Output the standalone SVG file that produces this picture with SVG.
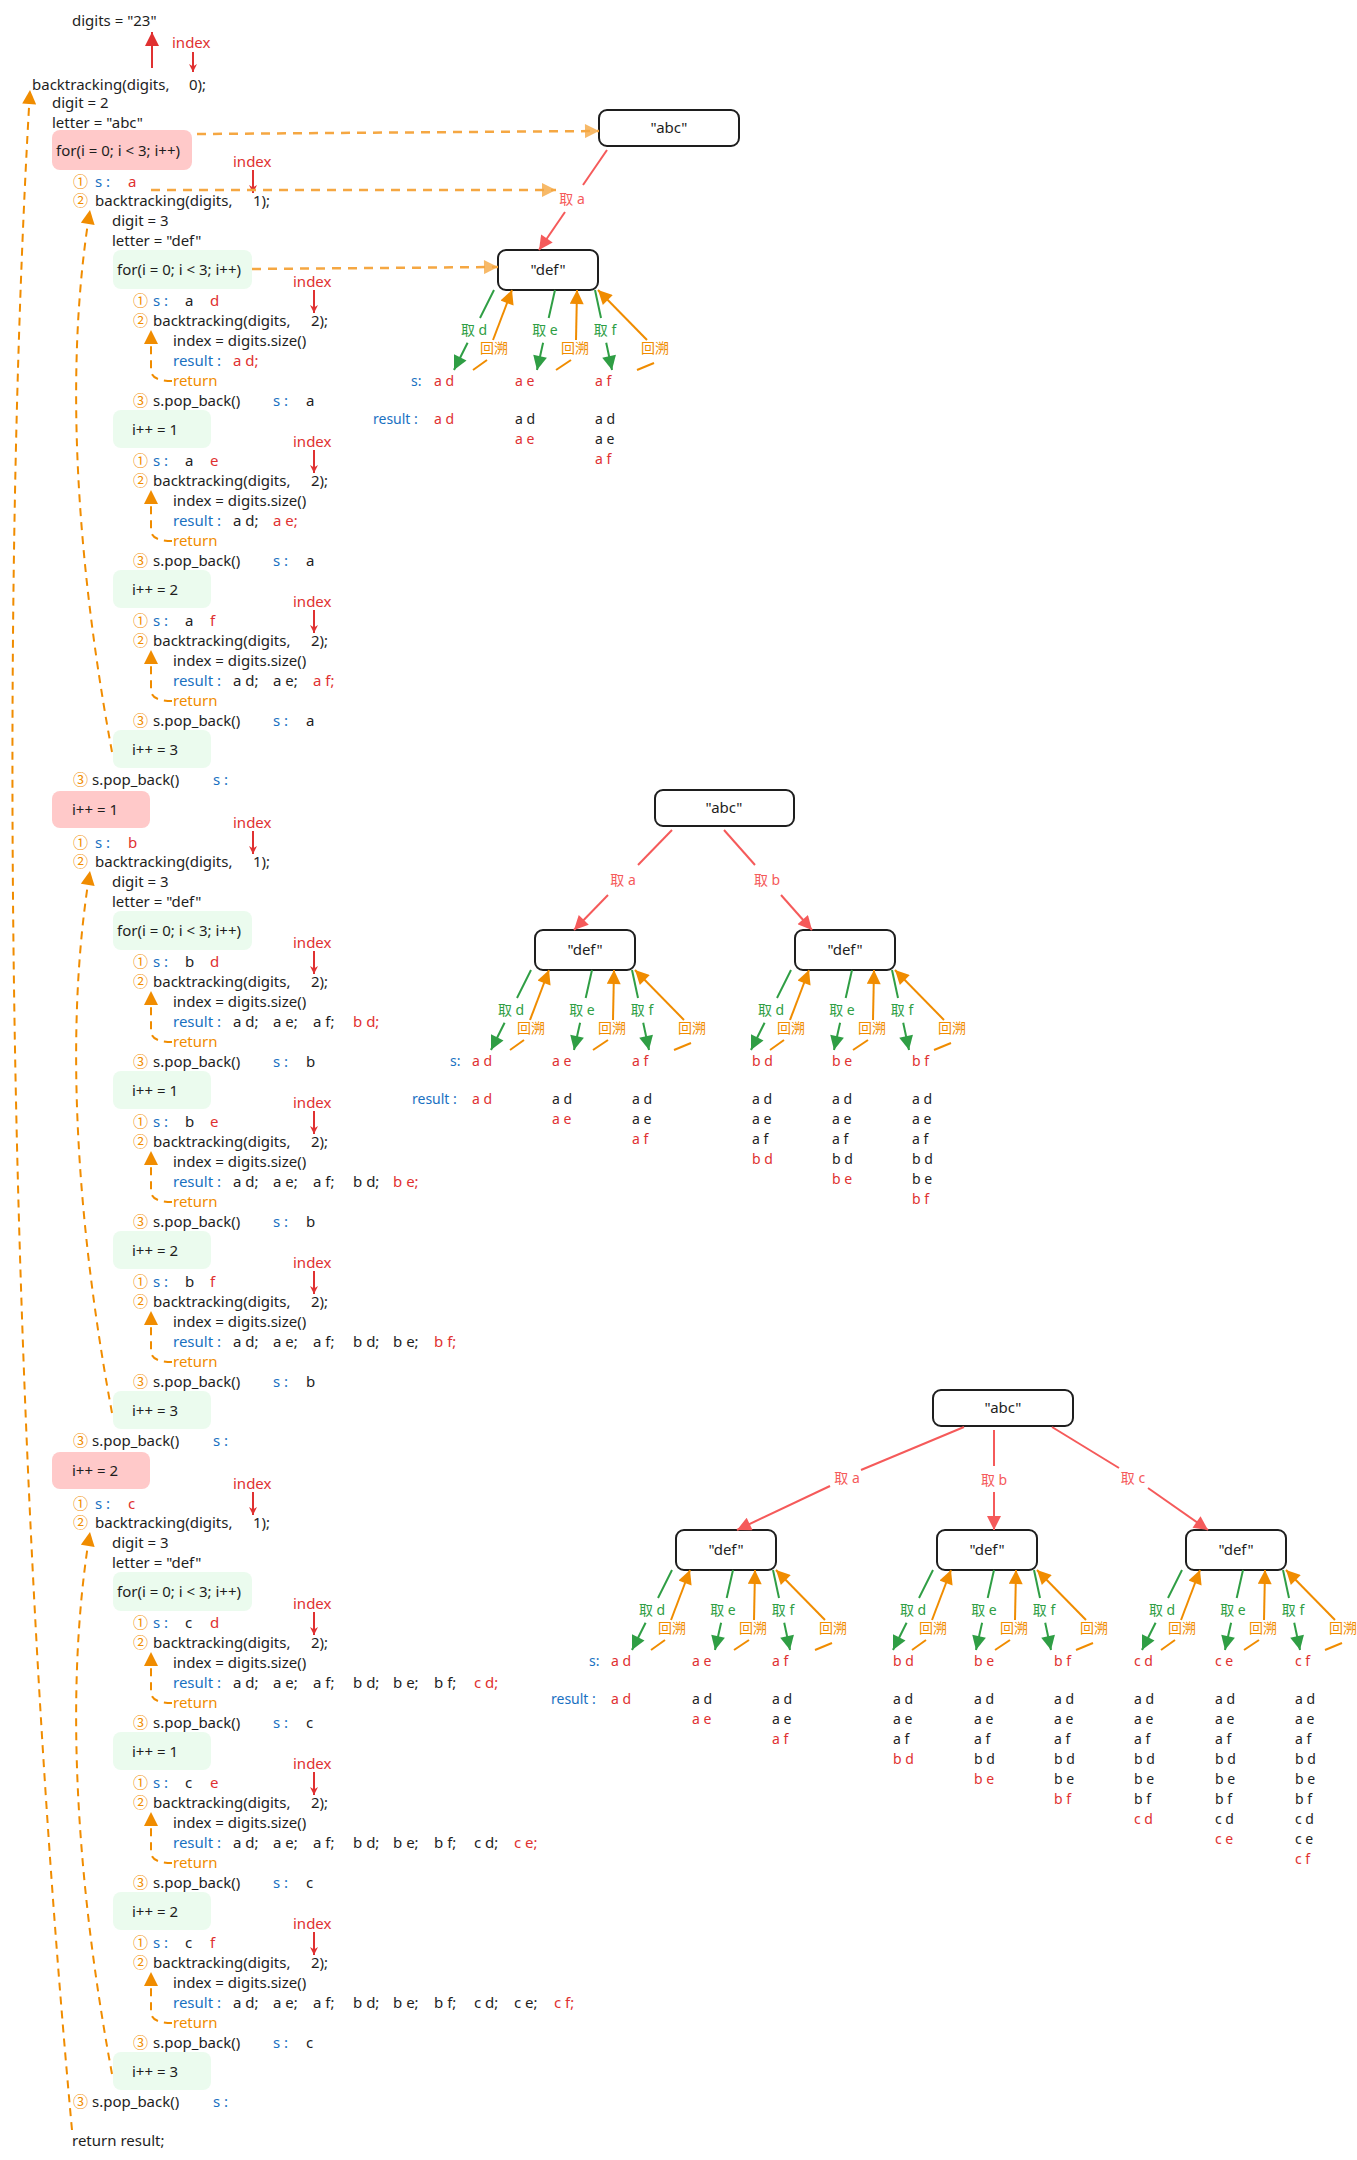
<svg xmlns="http://www.w3.org/2000/svg" width="1357" height="2160" viewBox="0 0 1357 2160">
<style>
text{font-family:"Noto Sans","Noto Sans CJK SC",sans-serif;font-size:15px;fill:#1e1e1e}
.r{fill:#e03131}.b{fill:#1971c2}.o{fill:#f08c00}.g{fill:#2f9e44}.e{fill:#f55a5a}
.s{font-size:14px}.m{text-anchor:middle}
.pk{fill:#ffc9c9}.gb{fill:#ebfbee}
.nd{fill:#fff;stroke:#1e1e1e;stroke-width:2}
.eg{stroke:#2f9e44;stroke-width:2;fill:none}
.eo{stroke:#f08c00;stroke-width:2;fill:none}
.er{stroke:#f55a5a;stroke-width:2;fill:none}
.dl{stroke:#f5a742;stroke-width:2.5;stroke-dasharray:9 7;fill:none}
.dr{stroke:#f08c00;stroke-width:2;stroke-dasharray:8 6;fill:none}
.ix{stroke:#e03131;stroke-width:2;fill:none}
</style>
<defs>
<marker id="mg" viewBox="0 0 10 10" refX="10" refY="5" markerWidth="16" markerHeight="14" orient="auto" markerUnits="userSpaceOnUse"><path d="M0,0L10,5L0,10z" fill="#2f9e44"/></marker>
<marker id="mo" viewBox="0 0 10 10" refX="10" refY="5" markerWidth="16" markerHeight="14" orient="auto" markerUnits="userSpaceOnUse"><path d="M0,0L10,5L0,10z" fill="#f08c00"/></marker>
<marker id="me" viewBox="0 0 10 10" refX="10" refY="5" markerWidth="16" markerHeight="14" orient="auto" markerUnits="userSpaceOnUse"><path d="M0,0L10,5L0,10z" fill="#f55a5a"/></marker>
<marker id="ml" viewBox="0 0 10 10" refX="10" refY="5" markerWidth="16" markerHeight="14" orient="auto" markerUnits="userSpaceOnUse"><path d="M0,0L10,5L0,10z" fill="#f5a742" fill-opacity="0.8"/></marker>
<marker id="mri" viewBox="0 0 10 10" refX="10" refY="5" markerWidth="9" markerHeight="8" orient="auto" markerUnits="userSpaceOnUse"><path d="M0,0L10,5L0,10L3,5z" fill="#e03131"/></marker>
<marker id="mrb" viewBox="0 0 10 10" refX="10" refY="5" markerWidth="16" markerHeight="14" orient="auto" markerUnits="userSpaceOnUse"><path d="M0,0L10,5L0,10z" fill="#e03131"/></marker>
<g id="sub">
<line class="eg" x1="-4" y1="40" x2="-18" y2="68"/><line class="eg" x1="-30.4" y1="92.8" x2="-44" y2="120" marker-end="url(#mg)"/>
<line class="eg" x1="57" y1="40" x2="50.7" y2="68"/><line class="eg" x1="45.1" y1="92.8" x2="39" y2="120" marker-end="url(#mg)"/>
<line class="eg" x1="97" y1="40" x2="103" y2="68"/><line class="eg" x1="108.2" y1="92.8" x2="114" y2="120" marker-end="url(#mg)"/>
<line class="eo" x1="-5" y1="90" x2="14" y2="40" marker-end="url(#mo)"/><line class="eo" x1="-25" y1="120" x2="-11" y2="110"/>
<line class="eo" x1="78" y1="90" x2="79" y2="40" marker-end="url(#mo)"/><line class="eo" x1="58" y1="120" x2="73" y2="110"/>
<line class="eo" x1="149" y1="90" x2="100" y2="40" marker-end="url(#mo)"/><line class="eo" x1="139" y1="120" x2="156" y2="113"/>
<text class="g s m" x="-24" y="85">取 d</text><text class="g s m" x="47" y="85">取 e</text><text class="g s m" x="107" y="85">取 f</text>
<text class="o s m" x="-4" y="103">回溯</text><text class="o s m" x="77" y="103">回溯</text><text class="o s m" x="157" y="103">回溯</text>
</g>
</defs>

<g id="header">
<text x="72" y="26">digits = "23"</text>
<line class="ix" x1="152" y1="68" x2="152" y2="32" marker-end="url(#mrb)"/>
<text class="r" x="172" y="48">index</text>
<line class="ix" x1="193" y1="52" x2="193" y2="72" marker-end="url(#mri)"/>
<text x="32" y="90">backtracking(digits,</text><text x="189" y="90">0);</text>
<text x="52" y="108">digit = 2</text>
<text x="52" y="128">letter = "abc"</text>
<text x="72" y="2146">return result;</text>
</g>

<!-- ===== outer block k=0 ===== -->
<g id="outer-a" transform="translate(0,130)">
<rect class="pk" x="52" y="0" width="140" height="40" rx="8"/><text x="56" y="26">for(i = 0; i &lt; 3; i++)</text>
<text class="o" x="73" y="57">①</text><text class="b" x="95" y="57">s :</text><text class="r" x="128" y="57">a</text>
<text class="r" x="233" y="37">index</text><line class="ix" x1="253" y1="40" x2="253" y2="63" marker-end="url(#mri)"/>
<text class="o" x="73" y="76">②</text><text x="95" y="76">backtracking(digits,</text><text x="253" y="76">1);</text>
<text x="112" y="96">digit = 3</text><text x="112" y="116">letter = "def"</text>
<g id="inner-ad" transform="translate(0,120)">
<rect class="gb" x="113" y="0" width="139" height="39" rx="8"/><text x="117" y="25">for(i = 0; i &lt; 3; i++)</text>
<text class="o" x="133" y="56">①</text><text class="b" x="153" y="56">s :</text><text x="185" y="56">a</text><text class="r" x="210" y="56">d</text>
<text class="r" x="293" y="37">index</text><line class="ix" x1="314" y1="40" x2="314" y2="63" marker-end="url(#mri)"/>
<text class="o" x="133" y="76">②</text><text x="153" y="76">backtracking(digits,</text><text x="311" y="76">2);</text>
<text x="173" y="96">index = digits.size()</text>
<text x="173" y="116"><tspan class="b">result :</tspan><tspan class="r" x="233">a d;</tspan></text>
<path class="dr" d="M172,131 Q151,131 151,120 L151,80" marker-end="url(#mo)"/><text class="o" x="173" y="136">return</text>
<text class="o" x="133" y="156">③</text><text x="153" y="156">s.pop_back()</text><text class="b" x="273" y="156">s :</text><text x="306" y="156">a</text>
</g>
<g id="inner-ae" transform="translate(0,280)">
<rect class="gb" x="113" y="0" width="98" height="38" rx="8"/><text x="132" y="25">i++ = 1</text>
<text class="o" x="133" y="56">①</text><text class="b" x="153" y="56">s :</text><text x="185" y="56">a</text><text class="r" x="210" y="56">e</text>
<text class="r" x="293" y="37">index</text><line class="ix" x1="314" y1="40" x2="314" y2="63" marker-end="url(#mri)"/>
<text class="o" x="133" y="76">②</text><text x="153" y="76">backtracking(digits,</text><text x="311" y="76">2);</text>
<text x="173" y="96">index = digits.size()</text>
<text x="173" y="116"><tspan class="b">result :</tspan><tspan x="233">a d;</tspan><tspan class="r" x="273">a e;</tspan></text>
<path class="dr" d="M172,131 Q151,131 151,120 L151,80" marker-end="url(#mo)"/><text class="o" x="173" y="136">return</text>
<text class="o" x="133" y="156">③</text><text x="153" y="156">s.pop_back()</text><text class="b" x="273" y="156">s :</text><text x="306" y="156">a</text>
</g>
<g id="inner-af" transform="translate(0,440)">
<rect class="gb" x="113" y="0" width="98" height="38" rx="8"/><text x="132" y="25">i++ = 2</text>
<text class="o" x="133" y="56">①</text><text class="b" x="153" y="56">s :</text><text x="185" y="56">a</text><text class="r" x="210" y="56">f</text>
<text class="r" x="293" y="37">index</text><line class="ix" x1="314" y1="40" x2="314" y2="63" marker-end="url(#mri)"/>
<text class="o" x="133" y="76">②</text><text x="153" y="76">backtracking(digits,</text><text x="311" y="76">2);</text>
<text x="173" y="96">index = digits.size()</text>
<text x="173" y="116"><tspan class="b">result :</tspan><tspan x="233">a d;</tspan><tspan x="273">a e;</tspan><tspan class="r" x="313">a f;</tspan></text>
<path class="dr" d="M172,131 Q151,131 151,120 L151,80" marker-end="url(#mo)"/><text class="o" x="173" y="136">return</text>
<text class="o" x="133" y="156">③</text><text x="153" y="156">s.pop_back()</text><text class="b" x="273" y="156">s :</text><text x="306" y="156">a</text>
</g>
<rect class="gb" x="113" y="600" width="98" height="38" rx="8"/><text x="132" y="625">i++ = 3</text>
<text class="o" x="73" y="655">③</text><text x="92" y="655">s.pop_back()</text><text class="b" x="213" y="655">s :</text>
<path class="dr" d="M112,622 C80,450 62,250 90,80" marker-end="url(#mo)"/>
</g>

<!-- ===== outer block k=1 ===== -->
<g id="outer-b" transform="translate(0,791)">
<rect class="pk" x="52" y="0" width="98" height="37" rx="8"/><text x="72" y="24">i++ = 1</text>
<text class="o" x="73" y="57">①</text><text class="b" x="95" y="57">s :</text><text class="r" x="128" y="57">b</text>
<text class="r" x="233" y="37">index</text><line class="ix" x1="253" y1="40" x2="253" y2="63" marker-end="url(#mri)"/>
<text class="o" x="73" y="76">②</text><text x="95" y="76">backtracking(digits,</text><text x="253" y="76">1);</text>
<text x="112" y="96">digit = 3</text><text x="112" y="116">letter = "def"</text>
<g id="inner-bd" transform="translate(0,120)">
<rect class="gb" x="113" y="0" width="139" height="39" rx="8"/><text x="117" y="25">for(i = 0; i &lt; 3; i++)</text>
<text class="o" x="133" y="56">①</text><text class="b" x="153" y="56">s :</text><text x="185" y="56">b</text><text class="r" x="210" y="56">d</text>
<text class="r" x="293" y="37">index</text><line class="ix" x1="314" y1="40" x2="314" y2="63" marker-end="url(#mri)"/>
<text class="o" x="133" y="76">②</text><text x="153" y="76">backtracking(digits,</text><text x="311" y="76">2);</text>
<text x="173" y="96">index = digits.size()</text>
<text x="173" y="116"><tspan class="b">result :</tspan><tspan x="233">a d;</tspan><tspan x="273">a e;</tspan><tspan x="313">a f;</tspan><tspan class="r" x="353">b d;</tspan></text>
<path class="dr" d="M172,131 Q151,131 151,120 L151,80" marker-end="url(#mo)"/><text class="o" x="173" y="136">return</text>
<text class="o" x="133" y="156">③</text><text x="153" y="156">s.pop_back()</text><text class="b" x="273" y="156">s :</text><text x="306" y="156">b</text>
</g>
<g id="inner-be" transform="translate(0,280)">
<rect class="gb" x="113" y="0" width="98" height="38" rx="8"/><text x="132" y="25">i++ = 1</text>
<text class="o" x="133" y="56">①</text><text class="b" x="153" y="56">s :</text><text x="185" y="56">b</text><text class="r" x="210" y="56">e</text>
<text class="r" x="293" y="37">index</text><line class="ix" x1="314" y1="40" x2="314" y2="63" marker-end="url(#mri)"/>
<text class="o" x="133" y="76">②</text><text x="153" y="76">backtracking(digits,</text><text x="311" y="76">2);</text>
<text x="173" y="96">index = digits.size()</text>
<text x="173" y="116"><tspan class="b">result :</tspan><tspan x="233">a d;</tspan><tspan x="273">a e;</tspan><tspan x="313">a f;</tspan><tspan x="353">b d;</tspan><tspan class="r" x="393">b e;</tspan></text>
<path class="dr" d="M172,131 Q151,131 151,120 L151,80" marker-end="url(#mo)"/><text class="o" x="173" y="136">return</text>
<text class="o" x="133" y="156">③</text><text x="153" y="156">s.pop_back()</text><text class="b" x="273" y="156">s :</text><text x="306" y="156">b</text>
</g>
<g id="inner-bf" transform="translate(0,440)">
<rect class="gb" x="113" y="0" width="98" height="38" rx="8"/><text x="132" y="25">i++ = 2</text>
<text class="o" x="133" y="56">①</text><text class="b" x="153" y="56">s :</text><text x="185" y="56">b</text><text class="r" x="210" y="56">f</text>
<text class="r" x="293" y="37">index</text><line class="ix" x1="314" y1="40" x2="314" y2="63" marker-end="url(#mri)"/>
<text class="o" x="133" y="76">②</text><text x="153" y="76">backtracking(digits,</text><text x="311" y="76">2);</text>
<text x="173" y="96">index = digits.size()</text>
<text x="173" y="116"><tspan class="b">result :</tspan><tspan x="233">a d;</tspan><tspan x="273">a e;</tspan><tspan x="313">a f;</tspan><tspan x="353">b d;</tspan><tspan x="393">b e;</tspan><tspan class="r" x="434">b f;</tspan></text>
<path class="dr" d="M172,131 Q151,131 151,120 L151,80" marker-end="url(#mo)"/><text class="o" x="173" y="136">return</text>
<text class="o" x="133" y="156">③</text><text x="153" y="156">s.pop_back()</text><text class="b" x="273" y="156">s :</text><text x="306" y="156">b</text>
</g>
<rect class="gb" x="113" y="600" width="98" height="38" rx="8"/><text x="132" y="625">i++ = 3</text>
<text class="o" x="73" y="655">③</text><text x="92" y="655">s.pop_back()</text><text class="b" x="213" y="655">s :</text>
<path class="dr" d="M112,622 C80,450 62,250 90,80" marker-end="url(#mo)"/>
</g>

<!-- ===== outer block k=2 ===== -->
<g id="outer-c" transform="translate(0,1452)">
<rect class="pk" x="52" y="0" width="98" height="37" rx="8"/><text x="72" y="24">i++ = 2</text>
<text class="o" x="73" y="57">①</text><text class="b" x="95" y="57">s :</text><text class="r" x="128" y="57">c</text>
<text class="r" x="233" y="37">index</text><line class="ix" x1="253" y1="40" x2="253" y2="63" marker-end="url(#mri)"/>
<text class="o" x="73" y="76">②</text><text x="95" y="76">backtracking(digits,</text><text x="253" y="76">1);</text>
<text x="112" y="96">digit = 3</text><text x="112" y="116">letter = "def"</text>
<g id="inner-cd" transform="translate(0,120)">
<rect class="gb" x="113" y="0" width="139" height="39" rx="8"/><text x="117" y="25">for(i = 0; i &lt; 3; i++)</text>
<text class="o" x="133" y="56">①</text><text class="b" x="153" y="56">s :</text><text x="185" y="56">c</text><text class="r" x="210" y="56">d</text>
<text class="r" x="293" y="37">index</text><line class="ix" x1="314" y1="40" x2="314" y2="63" marker-end="url(#mri)"/>
<text class="o" x="133" y="76">②</text><text x="153" y="76">backtracking(digits,</text><text x="311" y="76">2);</text>
<text x="173" y="96">index = digits.size()</text>
<text x="173" y="116"><tspan class="b">result :</tspan><tspan x="233">a d;</tspan><tspan x="273">a e;</tspan><tspan x="313">a f;</tspan><tspan x="353">b d;</tspan><tspan x="393">b e;</tspan><tspan x="434">b f;</tspan><tspan class="r" x="474">c d;</tspan></text>
<path class="dr" d="M172,131 Q151,131 151,120 L151,80" marker-end="url(#mo)"/><text class="o" x="173" y="136">return</text>
<text class="o" x="133" y="156">③</text><text x="153" y="156">s.pop_back()</text><text class="b" x="273" y="156">s :</text><text x="306" y="156">c</text>
</g>
<g id="inner-ce" transform="translate(0,280)">
<rect class="gb" x="113" y="0" width="98" height="38" rx="8"/><text x="132" y="25">i++ = 1</text>
<text class="o" x="133" y="56">①</text><text class="b" x="153" y="56">s :</text><text x="185" y="56">c</text><text class="r" x="210" y="56">e</text>
<text class="r" x="293" y="37">index</text><line class="ix" x1="314" y1="40" x2="314" y2="63" marker-end="url(#mri)"/>
<text class="o" x="133" y="76">②</text><text x="153" y="76">backtracking(digits,</text><text x="311" y="76">2);</text>
<text x="173" y="96">index = digits.size()</text>
<text x="173" y="116"><tspan class="b">result :</tspan><tspan x="233">a d;</tspan><tspan x="273">a e;</tspan><tspan x="313">a f;</tspan><tspan x="353">b d;</tspan><tspan x="393">b e;</tspan><tspan x="434">b f;</tspan><tspan x="474">c d;</tspan><tspan class="r" x="514">c e;</tspan></text>
<path class="dr" d="M172,131 Q151,131 151,120 L151,80" marker-end="url(#mo)"/><text class="o" x="173" y="136">return</text>
<text class="o" x="133" y="156">③</text><text x="153" y="156">s.pop_back()</text><text class="b" x="273" y="156">s :</text><text x="306" y="156">c</text>
</g>
<g id="inner-cf" transform="translate(0,440)">
<rect class="gb" x="113" y="0" width="98" height="38" rx="8"/><text x="132" y="25">i++ = 2</text>
<text class="o" x="133" y="56">①</text><text class="b" x="153" y="56">s :</text><text x="185" y="56">c</text><text class="r" x="210" y="56">f</text>
<text class="r" x="293" y="37">index</text><line class="ix" x1="314" y1="40" x2="314" y2="63" marker-end="url(#mri)"/>
<text class="o" x="133" y="76">②</text><text x="153" y="76">backtracking(digits,</text><text x="311" y="76">2);</text>
<text x="173" y="96">index = digits.size()</text>
<text x="173" y="116"><tspan class="b">result :</tspan><tspan x="233">a d;</tspan><tspan x="273">a e;</tspan><tspan x="313">a f;</tspan><tspan x="353">b d;</tspan><tspan x="393">b e;</tspan><tspan x="434">b f;</tspan><tspan x="474">c d;</tspan><tspan x="514">c e;</tspan><tspan class="r" x="554">c f;</tspan></text>
<path class="dr" d="M172,131 Q151,131 151,120 L151,80" marker-end="url(#mo)"/><text class="o" x="173" y="136">return</text>
<text class="o" x="133" y="156">③</text><text x="153" y="156">s.pop_back()</text><text class="b" x="273" y="156">s :</text><text x="306" y="156">c</text>
</g>
<rect class="gb" x="113" y="600" width="98" height="38" rx="8"/><text x="132" y="625">i++ = 3</text>
<text class="o" x="73" y="655">③</text><text x="92" y="655">s.pop_back()</text><text class="b" x="213" y="655">s :</text>
<path class="dr" d="M112,622 C80,450 62,250 90,80" marker-end="url(#mo)"/>
</g>

<!-- ===== trees: nodes ===== -->
<g id="t1-abc"><rect class="nd" x="599" y="110" width="140" height="36" rx="8"/><text class="m" x="669" y="133">"abc"</text></g>
<g id="t1-def"><rect class="nd" x="498" y="250" width="100" height="40" rx="8"/><text class="m" x="548" y="275">"def"</text></g>
<g id="t2-abc"><rect class="nd" x="655" y="790" width="139" height="36" rx="8"/><text class="m" x="724" y="813">"abc"</text></g>
<g id="t2-def1"><rect class="nd" x="535" y="930" width="100" height="40" rx="8"/><text class="m" x="585" y="955">"def"</text></g>
<g id="t2-def2"><rect class="nd" x="795" y="930" width="100" height="40" rx="8"/><text class="m" x="845" y="955">"def"</text></g>
<g id="t3-abc"><rect class="nd" x="933" y="1390" width="140" height="36" rx="8"/><text class="m" x="1003" y="1413">"abc"</text></g>
<g id="t3-def1"><rect class="nd" x="676" y="1530" width="100" height="40" rx="8"/><text class="m" x="726" y="1555">"def"</text></g>
<g id="t3-def2"><rect class="nd" x="937" y="1530" width="100" height="40" rx="8"/><text class="m" x="987" y="1555">"def"</text></g>
<g id="t3-def3"><rect class="nd" x="1186" y="1530" width="100" height="40" rx="8"/><text class="m" x="1236" y="1555">"def"</text></g>

<!-- ===== connectors ===== -->
<g id="connectors">
<path class="dr" d="M72,2130 C5,1400 0,600 30,90" marker-end="url(#mo)"/>
<line class="dl" x1="197" y1="134" x2="599" y2="131" marker-end="url(#ml)"/>
<line class="dl" x1="151" y1="190" x2="556" y2="190" marker-end="url(#ml)"/>
<line class="dl" x1="252" y1="269" x2="498" y2="267" marker-end="url(#ml)"/>
<line class="er" x1="607" y1="150" x2="583" y2="185"/><line class="er" x1="565" y1="212" x2="539" y2="250" marker-end="url(#me)"/>
<text class="e s m" x="572" y="204">取 a</text>
<use href="#sub" transform="translate(498,250)"/>

<line class="er" x1="672" y1="830" x2="638" y2="865"/><line class="er" x1="608" y1="895" x2="574" y2="930" marker-end="url(#me)"/>
<text class="e s m" x="623" y="885">取 a</text>
<line class="er" x1="724" y1="830" x2="755" y2="865"/><line class="er" x1="781" y1="895" x2="812" y2="930" marker-end="url(#me)"/>
<text class="e s m" x="767" y="885">取 b</text>
<use href="#sub" transform="translate(535,930)"/>
<use href="#sub" transform="translate(795,930)"/>

<line class="er" x1="964" y1="1427" x2="861" y2="1470"/><line class="er" x1="830" y1="1486" x2="737" y2="1530" marker-end="url(#me)"/>
<text class="e s m" x="847" y="1483">取 a</text>
<line class="er" x1="994" y1="1430" x2="994" y2="1466"/><line class="er" x1="994" y1="1492" x2="994" y2="1530" marker-end="url(#me)"/>
<text class="e s m" x="994" y="1485">取 b</text>
<line class="er" x1="1052" y1="1427" x2="1119" y2="1468"/><line class="er" x1="1148" y1="1488" x2="1208" y2="1530" marker-end="url(#me)"/>
<text class="e s m" x="1133" y="1483">取 c</text>
<use href="#sub" transform="translate(676,1530)"/>
<use href="#sub" transform="translate(937,1530)"/>
<use href="#sub" transform="translate(1186,1530)"/>
</g>

<!-- ===== tree state texts ===== -->
<g id="t1-states" class="s">
<text class="b s" x="411" y="386">s:</text><text class="r s" x="434" y="386">a d</text><text class="r s" x="515" y="386">a e</text><text class="r s" x="595" y="386">a f</text>
<text class="b s" x="373" y="424">result :</text>
<text class="r s" x="434" y="424">a d</text>
<text class="s" x="515" y="424">a d</text><text class="r s" x="515" y="444">a e</text>
<text class="s" x="595" y="424">a d</text><text class="s" x="595" y="444">a e</text><text class="r s" x="595" y="464">a f</text>
</g>
<g id="t2-states">
<text class="b s" x="450" y="1066">s:</text><text class="r s" x="472" y="1066">a d</text><text class="r s" x="552" y="1066">a e</text><text class="r s" x="632" y="1066">a f</text>
<text class="r s" x="752" y="1066">b d</text><text class="r s" x="832" y="1066">b e</text><text class="r s" x="912" y="1066">b f</text>
<text class="b s" x="412" y="1104">result :</text>
<text class="r s" x="472" y="1104">a d</text>
<text class="s" x="552" y="1104">a d</text><text class="r s" x="552" y="1124">a e</text>
<text class="s" x="632" y="1104">a d</text><text class="s" x="632" y="1124">a e</text><text class="r s" x="632" y="1144">a f</text>
<text class="s" x="752" y="1104">a d</text><text class="s" x="752" y="1124">a e</text><text class="s" x="752" y="1144">a f</text><text class="r s" x="752" y="1164">b d</text>
<text class="s" x="832" y="1104">a d</text><text class="s" x="832" y="1124">a e</text><text class="s" x="832" y="1144">a f</text><text class="s" x="832" y="1164">b d</text><text class="r s" x="832" y="1184">b e</text>
<text class="s" x="912" y="1104">a d</text><text class="s" x="912" y="1124">a e</text><text class="s" x="912" y="1144">a f</text><text class="s" x="912" y="1164">b d</text><text class="s" x="912" y="1184">b e</text><text class="r s" x="912" y="1204">b f</text>
</g>
<g id="t3-states">
<text class="b s" x="589" y="1666">s:</text><text class="r s" x="611" y="1666">a d</text><text class="r s" x="692" y="1666">a e</text><text class="r s" x="772" y="1666">a f</text>
<text class="r s" x="893" y="1666">b d</text><text class="r s" x="974" y="1666">b e</text><text class="r s" x="1054" y="1666">b f</text>
<text class="r s" x="1134" y="1666">c d</text><text class="r s" x="1215" y="1666">c e</text><text class="r s" x="1295" y="1666">c f</text>
<text class="b s" x="551" y="1704">result :</text>
<text class="r s" x="611" y="1704">a d</text>
<text class="s" x="692" y="1704">a d</text><text class="r s" x="692" y="1724">a e</text>
<text class="s" x="772" y="1704">a d</text><text class="s" x="772" y="1724">a e</text><text class="r s" x="772" y="1744">a f</text>
<text class="s" x="893" y="1704">a d</text><text class="s" x="893" y="1724">a e</text><text class="s" x="893" y="1744">a f</text><text class="r s" x="893" y="1764">b d</text>
<text class="s" x="974" y="1704">a d</text><text class="s" x="974" y="1724">a e</text><text class="s" x="974" y="1744">a f</text><text class="s" x="974" y="1764">b d</text><text class="r s" x="974" y="1784">b e</text>
<text class="s" x="1054" y="1704">a d</text><text class="s" x="1054" y="1724">a e</text><text class="s" x="1054" y="1744">a f</text><text class="s" x="1054" y="1764">b d</text><text class="s" x="1054" y="1784">b e</text><text class="r s" x="1054" y="1804">b f</text>
<text class="s" x="1134" y="1704">a d</text><text class="s" x="1134" y="1724">a e</text><text class="s" x="1134" y="1744">a f</text><text class="s" x="1134" y="1764">b d</text><text class="s" x="1134" y="1784">b e</text><text class="s" x="1134" y="1804">b f</text><text class="r s" x="1134" y="1824">c d</text>
<text class="s" x="1215" y="1704">a d</text><text class="s" x="1215" y="1724">a e</text><text class="s" x="1215" y="1744">a f</text><text class="s" x="1215" y="1764">b d</text><text class="s" x="1215" y="1784">b e</text><text class="s" x="1215" y="1804">b f</text><text class="s" x="1215" y="1824">c d</text><text class="r s" x="1215" y="1844">c e</text>
<text class="s" x="1295" y="1704">a d</text><text class="s" x="1295" y="1724">a e</text><text class="s" x="1295" y="1744">a f</text><text class="s" x="1295" y="1764">b d</text><text class="s" x="1295" y="1784">b e</text><text class="s" x="1295" y="1804">b f</text><text class="s" x="1295" y="1824">c d</text><text class="s" x="1295" y="1844">c e</text><text class="r s" x="1295" y="1864">c f</text>
</g>
</svg>
